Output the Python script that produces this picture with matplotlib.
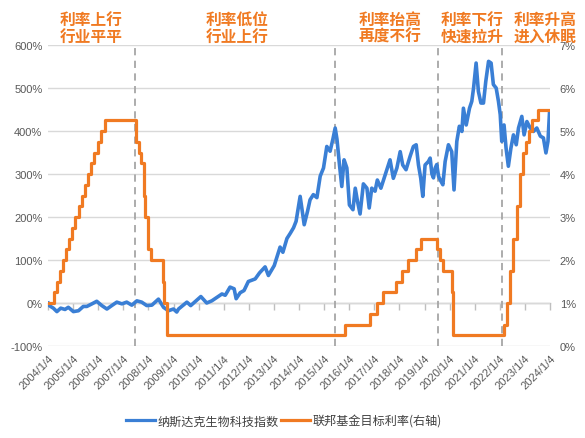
import numpy as np
import matplotlib
matplotlib.use("Agg")
import matplotlib.pyplot as plt
from matplotlib.lines import Line2D
import datetime as dt

plt.rcParams['font.family'] = ['Noto Sans CJK SC', 'DejaVu Sans']

# ---------------- data ----------------
# Nasdaq Biotech index cumulative return (%) (fractional year, value)
nbi_t = [2004.26, 2004.28, 2004.47, 2004.61, 2004.76, 2004.93, 2005.06, 2005.26, 2005.46, 2005.65,
         2005.79, 2005.99, 2006.18, 2006.38, 2006.58, 2006.77, 2006.97, 2007.17, 2007.36, 2007.56,
         2007.76, 2007.95, 2008.15, 2008.35, 2008.61, 2008.81, 2009.00, 2009.20, 2009.33, 2009.40,
         2009.73, 2009.88, 2010.05, 2010.28, 2010.51, 2010.71, 2010.91, 2011.11, 2011.24, 2011.43,
         2011.59, 2011.67, 2011.83, 2011.98, 2012.15, 2012.42, 2012.59, 2012.81, 2012.94, 2013.17,
         2013.40, 2013.51, 2013.67, 2013.80, 2013.93, 2014.03, 2014.19, 2014.35, 2014.48, 2014.58,
         2014.71, 2014.85, 2014.98, 2015.11, 2015.24, 2015.37, 2015.48, 2015.57, 2015.64, 2015.74,
         2015.83, 2015.92, 2016.03, 2016.13, 2016.27, 2016.36, 2016.45, 2016.55, 2016.68, 2016.82,
         2016.91, 2017.01, 2017.14, 2017.23, 2017.37, 2017.54, 2017.63, 2017.73, 2017.86, 2018.00,
         2018.13, 2018.23, 2018.36, 2018.52, 2018.65, 2018.76, 2018.85, 2018.94, 2019.02, 2019.11,
         2019.24, 2019.31, 2019.38, 2019.44, 2019.51, 2019.57, 2019.64, 2019.70, 2019.81, 2019.90,
         2020.03, 2020.16, 2020.25, 2020.36, 2020.46, 2020.56, 2020.62, 2020.73, 2020.86, 2020.95,
         2021.02, 2021.12, 2021.21, 2021.31, 2021.41, 2021.50, 2021.61, 2021.71, 2021.80, 2021.91,
         2022.00, 2022.07, 2022.13, 2022.22, 2022.30, 2022.39, 2022.49, 2022.59, 2022.70, 2022.79,
         2022.92, 2023.01, 2023.12, 2023.25, 2023.38, 2023.51, 2023.65, 2023.77, 2023.87, 2023.95,
         2024.01]
nbi_v = [0, -5, -12, -20, -12, -15, -10, -20, -18, -8,
         -8, -2, 4, -6, -14, -6, 2, -2, 2, -5,
         5, 2, -6, -5, 9, -10, -18, -14, -21, -14,
         2, -6, 3, 15, 0, 5, 13, 21, 18, 37,
         33, 10, 24, 29, 50, 56, 70, 84, 64, 87,
         130, 118, 150, 162, 175, 190, 248, 182, 213, 240,
         252, 245, 295, 314, 364, 353, 381, 407, 381, 321,
         271, 333, 314, 228, 217, 267, 236, 207, 277, 267,
         221, 267, 260, 286, 267, 298, 314, 333, 290, 314,
         352, 321, 310, 341, 364, 368, 321, 290, 248, 321,
         329, 337, 300, 291, 314, 322, 295, 287, 275, 329,
         368, 352, 263, 376, 411, 399, 453, 414, 453, 469,
         500, 558, 492, 465, 465, 515, 562, 558, 508, 500,
         469, 438, 376, 414, 360, 318, 360, 391, 368, 407,
         434, 391, 422, 407, 399, 407, 388, 384, 349, 376,
         442]

# Fed funds target rate (upper bound, %), effective dates
fed_dates = ["2004-04-05", "2004-06-30", "2004-08-10", "2004-09-21", "2004-11-10", "2004-12-14",
             "2005-02-02", "2005-03-22", "2005-05-03", "2005-06-30", "2005-08-09", "2005-09-20",
             "2005-11-01", "2005-12-13", "2006-01-31", "2006-03-28", "2006-05-10", "2006-06-29",
             "2007-09-18", "2007-10-31", "2007-12-11", "2008-01-22", "2008-01-30", "2008-03-18",
             "2008-04-30", "2008-10-08", "2008-10-29", "2008-12-16", "2015-12-17", "2016-12-15",
             "2017-03-16", "2017-06-15", "2017-12-14", "2018-03-22", "2018-06-14", "2018-09-27",
             "2018-12-20", "2019-08-01", "2019-09-19", "2019-10-31", "2020-03-04", "2020-03-16",
             "2022-03-17", "2022-05-05", "2022-06-16", "2022-07-28", "2022-09-22", "2022-11-03",
             "2022-12-15", "2023-02-02", "2023-03-23", "2023-05-04", "2023-07-27", "2024-01-10"]
fed_rate = [1.00, 1.25, 1.50, 1.75, 2.00, 2.25,
            2.50, 2.75, 3.00, 3.25, 3.50, 3.75,
            4.00, 4.25, 4.50, 4.75, 5.00, 5.25,
            4.75, 4.50, 4.25, 3.50, 3.00, 2.25,
            2.00, 1.50, 1.00, 0.25, 0.50, 0.75,
            1.00, 1.25, 1.50, 1.75, 2.00, 2.25,
            2.50, 2.25, 2.00, 1.75, 1.25, 0.25,
            0.50, 1.00, 1.75, 2.50, 3.25, 4.00,
            4.50, 4.75, 5.00, 5.25, 5.50, 5.50]

# regime boundaries (fractional year)
regime_breaks = [2007.69, 2015.57, 2019.61, 2022.13]
regime_labels = ["利率上行\n行业平平", "利率低位\n行业上行", "利率抬高\n再度不行",
                 "利率下行\n快速拉升", "利率升高\n进入休眠"]
tick_years = list(range(2004, 2025))
tick_labels = [f"{y}/1/4" for y in tick_years]
series_names = ["纳斯达克生物科技指数", "联邦基金目标利率(右轴)"]

# ---------------- helpers ----------------
def frac_year(s):
    d = dt.datetime.strptime(s, "%Y-%m-%d")
    start = dt.datetime(d.year, 1, 1)
    return d.year + (d - start).days / 365.25

fed_t = [frac_year(s) for s in fed_dates]

BLUE = "#3A7FD5"
ORANGE = "#F07A22"
GRID = "#D9D9D9"
TXT = "#595959"

fig = plt.figure(figsize=(5.85, 4.39), dpi=100)
ax = fig.add_axes([48/585, 1-347/439, (550-48)/585, (347-46)/439])
ax2 = ax.twinx()

xmin, xmax = 2004.26, 2024.03
ax.set_xlim(xmin, xmax)
ax.set_ylim(-100, 600)
ax2.set_ylim(0, 7)

ax.set_yticks(np.arange(-100, 601, 100))
ax.set_yticklabels([f"{v}%" for v in range(-100, 601, 100)])
ax2.set_yticks(np.arange(0, 8, 1))
ax2.set_yticklabels([f"{v}%" for v in range(0, 8)])

ax.yaxis.grid(True, color=GRID, lw=1.0)
ax.set_axisbelow(True)
for a in (ax, ax2):
    for sp in a.spines.values():
        sp.set_visible(False)
ax.tick_params(axis='y', length=0, pad=4, labelsize=8, labelcolor=TXT)
ax2.tick_params(axis='y', length=0, pad=7, labelsize=8, labelcolor=TXT)
for lab in ax.get_yticklabels() + ax2.get_yticklabels():
    lab.set_fontfamily('Liberation Sans')

# x tick labels at bottom
xt = np.linspace(xmin, xmax, len(tick_years))
ax.set_xticks(xt)
ax.set_xticklabels(tick_labels, rotation=45, ha='right', rotation_mode='anchor',
                   fontsize=8, color=TXT, fontfamily='Liberation Sans')
ax.tick_params(axis='x', length=0, pad=5)

# axis line with tick marks at 0%
sec = ax.secondary_xaxis(1/7)
sec.set_xticks(xt)
sec.set_xticklabels([])
sec.tick_params(axis='x', direction='out', length=5, color="#BFBFBF", width=1)
sec.spines['bottom'].set_color("#BFBFBF")
sec.spines['bottom'].set_linewidth(1)

# regime dashed lines
for b in regime_breaks:
    ax.axvline(b, color="#A6A6A6", lw=1.3, ls=(0, (4, 3)), zorder=1)

ax.plot(nbi_t, nbi_v, color=BLUE, lw=2.6, zorder=3, solid_joinstyle='round')
ax2.plot(fed_t, fed_rate, color=ORANGE, lw=2.3, drawstyle='steps-post', zorder=4)

# regime annotations
label_x_px = [91, 237, 390, 472, 545]
for px, txt in zip(label_x_px, regime_labels):
    l1, l2 = txt.split("\n")
    fig.text(px/585, 1-19.5/439, l1, ha='center', va='center', fontsize=11.3,
             fontweight='bold', color=ORANGE)
    fig.text(px/585, 1-36.5/439, l2, ha='center', va='center', fontsize=11.3,
             fontweight='bold', color=ORANGE)

handles = [Line2D([], [], color=BLUE, lw=2.3), Line2D([], [], color=ORANGE, lw=2.3)]
fig.legend(handles, series_names, loc='center', bbox_to_anchor=(284/585, 1-422/439),
           ncol=2, frameon=False, fontsize=8.7, handlelength=2.4, handletextpad=0.2,
           columnspacing=0.2, labelcolor="#404040")

fig.savefig("out.png", dpi=100)
